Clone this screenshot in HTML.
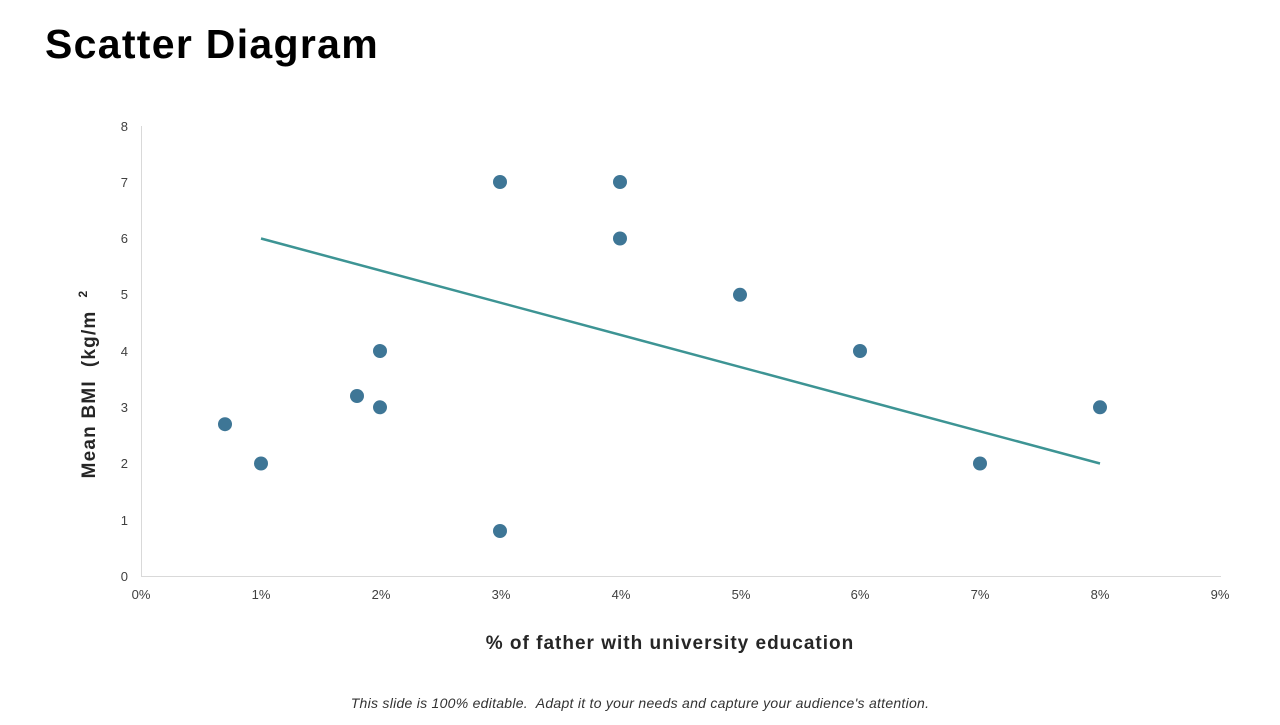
<!DOCTYPE html>
<html><head><meta charset="utf-8"><style>
body{margin:0;width:1280px;height:720px;background:#fff;overflow:hidden;font-family:"Liberation Sans",sans-serif}
</style></head><body>
<svg width="1280" height="720" xmlns="http://www.w3.org/2000/svg" font-family="Liberation Sans, sans-serif">
<text x="45" y="58" font-size="41" font-weight="bold" fill="#000" letter-spacing="1.3">Scatter Diagram</text>
<line x1="141.5" y1="126" x2="141.5" y2="577" stroke="#d9d9d9" stroke-width="1"/>
<line x1="141" y1="576.5" x2="1221" y2="576.5" stroke="#d9d9d9" stroke-width="1"/>
<g font-size="13" fill="#404040" text-anchor="end">
<text x="128" y="581">0</text><text x="128" y="525">1</text><text x="128" y="468">2</text>
<text x="128" y="412">3</text><text x="128" y="356">4</text><text x="128" y="299">5</text>
<text x="128" y="243">6</text><text x="128" y="187">7</text><text x="128" y="131">8</text>
</g>
<g font-size="13" fill="#404040" text-anchor="middle">
<text x="141" y="599">0%</text><text x="261" y="599">1%</text><text x="381" y="599">2%</text>
<text x="501" y="599">3%</text><text x="621" y="599">4%</text><text x="741" y="599">5%</text>
<text x="860" y="599">6%</text><text x="980" y="599">7%</text><text x="1100" y="599">8%</text>
<text x="1220" y="599">9%</text>
</g>
<line x1="261" y1="238.5" x2="1100" y2="463.5" stroke="#3d9494" stroke-width="2.5"/>
<g fill="#3e7696">
<circle cx="225" cy="424.2" r="7"/><circle cx="261" cy="463.5" r="7"/>
<circle cx="357" cy="396" r="7"/><circle cx="380" cy="351" r="7"/>
<circle cx="380" cy="407.3" r="7"/><circle cx="500" cy="182" r="7"/>
<circle cx="500" cy="531" r="7"/><circle cx="620" cy="182" r="7"/>
<circle cx="620" cy="238.5" r="7"/><circle cx="740" cy="294.8" r="7"/>
<circle cx="860" cy="351" r="7"/><circle cx="980" cy="463.5" r="7"/>
<circle cx="1100" cy="407.3" r="7"/>
</g>
<text x="670" y="649" font-size="19" font-weight="bold" fill="#262626" text-anchor="middle" letter-spacing="1">% of father with university education</text>
<text transform="translate(95,384) rotate(-90)" font-size="19" font-weight="bold" fill="#262626" text-anchor="middle" letter-spacing="1.2" xml:space="preserve">Mean BMI  (kg/m  <tspan font-size="12" dy="-8">2</tspan></text>
<text x="640" y="708" font-size="14" font-style="italic" fill="#333" text-anchor="middle" letter-spacing="0.27" xml:space="preserve">This slide is 100% editable.  Adapt it to your needs and capture your audience's attention.</text>
</svg>
</body></html>
